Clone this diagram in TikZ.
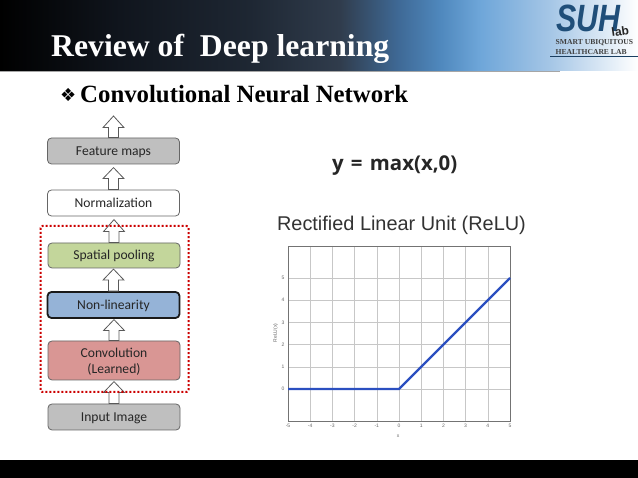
\documentclass[tikz,border=0pt]{standalone}
\usepackage{fontspec}
\setmainfont{Liberation Serif}
\newfontfamily\carl{Carlito}
\newfontfamily\lsans{Liberation Sans}
\newfontfamily\nsans{Open Sans}
\newfontfamily\dejav{DejaVu Sans}
\usetikzlibrary{calc}
\definecolor{hA}{HTML}{10151D}
\definecolor{hB}{HTML}{1E2733}
\definecolor{hC}{HTML}{303C4C}
\definecolor{hD}{HTML}{3F6A97}
\definecolor{hE}{HTML}{4F88BD}
\definecolor{hF}{HTML}{6EA6D9}
\definecolor{hG}{HTML}{A5C6E6}
\definecolor{navy}{HTML}{1F4E79}
\definecolor{boxgrey}{HTML}{BFBFBF}
\definecolor{boxgreen}{HTML}{C3D69B}
\definecolor{boxblue}{HTML}{95B3D7}
\definecolor{boxred}{HTML}{D99694}
\definecolor{lineblue}{HTML}{2B4FC0}
\pgfdeclarehorizontalshading{hdr}{100bp}{color(0bp)=(black); color(25bp)=(black); color(34.4bp)=(hA); color(44.6bp)=(hB); color(51.6bp)=(hC); color(56.3bp)=(hD); color(59.5bp)=(hE); color(62.6bp)=(hF); color(68.1bp)=(hG); color(75bp)=(white); color(100bp)=(white)}
\tikzset{
  layerbox/.style={draw=black!60, line width=0.8pt, rounded corners=4pt, minimum width=132pt, inner sep=0pt, align=center, text=black!85, font=\carl\fontsize{13.6}{16}\selectfont},
  oneline/.style={text height=11.5pt, text depth=2.5pt},
  blockarrow/.style={draw=black!65, line width=0.8pt, fill=white, line join=miter},
  gridline/.style={draw=black!22, line width=0.5pt},
  ticklabel/.style={font=\lsans\fontsize{5}{6}\selectfont, text=black!60, inner sep=0pt},
}
\begin{document}
\begin{tikzpicture}[x=1pt,y=-1pt]
\useasboundingbox (0,0) rectangle (638,478);
\fill[white] (0,0) rectangle (638,478);
% header and footer bands
\shade[shading=hdr] (0,0) rectangle (638,71);
\fill[black!35] (0,71) rectangle (560,71.8);
\fill[black] (0,460) rectangle (638,478);
\node[anchor=base west, inner sep=0pt, text=white, font=\bfseries\fontsize{31.7}{34}\selectfont] (title) at (51,56.5) {Review of\ \ Deep learning};
\node[anchor=base west, inner sep=0pt, font=\dejav\fontsize{18}{22}\selectfont] (bullet) at (60,102) {❖};
\node[anchor=base west, inner sep=0pt, text=black, font=\bfseries\fontsize{24.8}{28}\selectfont] (sub) at (80,102.5) {Convolutional Neural Network};
% logo
\node[anchor=base west, inner sep=0pt, text=navy, font=\lsans\bfseries\itshape\fontsize{38}{40}\selectfont] (suh) at (556,31.5) {\scalebox{0.8}[1]{SUH}};
\node[anchor=base west, inner sep=0pt, text=black!85, rotate=8, font=\lsans\bfseries\fontsize{12}{14}\selectfont] (lab) at (612,37) {lab};
\node[anchor=base west, inner sep=0pt, text=black!75, font=\bfseries\fontsize{7.6}{8}\selectfont] (smart) at (555.5,44.8) {SMART UBIQUITOUS};
\node[anchor=base west, inner sep=0pt, text=black!75, font=\bfseries\fontsize{7.6}{8}\selectfont] (health) at (555.5,54.3) {HEALTHCARE LAB};
\fill[navy!80!black] (550,56) rectangle (638,57.3);
% layer boxes
\node[layerbox, oneline, fill=boxgrey, minimum height=26pt] (feat) at (113.5,151) {Feature maps};
\node[layerbox, oneline, fill=white, minimum height=26pt] (norm) at (113.5,203) {Normalization};
\node[layerbox, oneline, fill=boxgreen, minimum height=25pt] (pool) at (114,255.5) {Spatial pooling};
\node[layerbox, oneline, fill=boxblue, minimum height=26pt, line width=1.8pt, draw=black!90] (nonlin) at (113.5,305) {Non-linearity};
\node[layerbox, fill=boxred, minimum height=39pt, font=\carl\fontsize{13.6}{15.5}\selectfont] (conv) at (114,360.5) {\rule{0pt}{12pt}Convolution\\(Learned)};
\node[layerbox, oneline, fill=boxgrey, minimum height=26pt] (input) at (114,417) {Input Image};
% block arrows
\coordinate (tipF) at (113.5,116);
\draw[blockarrow] ($(feat.north)+(-5,0)$) -- ++(0,-10) -- ++(-5.5,0) -- (tipF) -- ($(feat.north)+(10.5,-10)$) -- ++(-5.5,0) -- ($(feat.north)+(5,0)$) -- cycle;
\draw[blockarrow] ($(norm.north)+(-5,0)$) -- ++(0,-11) -- ++(-5.5,0) -- ($(norm.north)+(0,-22)$) -- ($(norm.north)+(10.5,-11)$) -- ++(-5.5,0) -- ($(norm.north)+(5,0)$) -- cycle;
\draw[blockarrow] ($(pool.north)+(-5,0)$) -- ++(0,-11) -- ++(-5.5,0) -- ($(pool.north)+(0,-23)$) -- ($(pool.north)+(10.5,-11)$) -- ++(-5.5,0) -- ($(pool.north)+(5,0)$) -- cycle;
\draw[blockarrow] ($(nonlin.north)+(-5,0)$) -- ++(0,-11) -- ++(-5.5,0) -- ($(nonlin.north)+(0,-22)$) -- ($(nonlin.north)+(10.5,-11)$) -- ++(-5.5,0) -- ($(nonlin.north)+(5,0)$) -- cycle;
\draw[blockarrow] ($(conv.north)+(-5,0)$) -- ++(0,-10) -- ++(-5.5,0) -- ($(conv.north)+(0,-21)$) -- ($(conv.north)+(10.5,-10)$) -- ++(-5.5,0) -- ($(conv.north)+(5,0)$) -- cycle;
\draw[blockarrow] ($(input.north)+(-5,0)$) -- ++(0,-11) -- ++(-5.5,0) -- ($(input.north)+(0,-22)$) -- ($(input.north)+(10.5,-11)$) -- ++(-5.5,0) -- ($(input.north)+(5,0)$) -- cycle;
% red dotted region
\draw[draw=red!80!black, line width=2pt, dash pattern=on 2pt off 2pt, rounded corners=2pt] (40.5,226) rectangle (188.5,392);
% formula
\node[anchor=base west, inner sep=0pt, text=black!85, font=\nsans\bfseries\fontsize{20.4}{22}\selectfont] (formula) at (332,171) {y\hspace{7pt}=\hspace{7.5pt}max(x,0)};
% plot
\node[anchor=base, inner sep=0pt, text=black!80, font=\lsans\fontsize{19.9}{22}\selectfont] (plottitle) at (401.5,231) {Rectified Linear Unit (ReLU)};
\foreach \i in {-4,...,4} \draw[gridline] ({399+22.2*\i},246) -- ({399+22.2*\i},421.7);
\foreach \j in {0,...,5} \draw[gridline] (288,{389-22.2*\j}) -- (510,{389-22.2*\j});
\draw[draw=black!55, line width=0.6pt] (288,246) rectangle (510,421.7);
\foreach \i in {-5,...,5} \node[ticklabel] at ({399+22.2*\i},426) {\i};
\foreach \j in {0,...,5} \node[ticklabel] at (283,{389-22.2*\j}) {\j};
\node[ticklabel, rotate=90] (ylab) at (275.5,333) {ReLU(x)};
\node[ticklabel] (xlab) at (398,436.5) {x};
\draw[draw=lineblue, line width=2.4pt, line join=miter] (288,389) -- (399,389) -- (510,278);
\end{tikzpicture}
\end{document}
